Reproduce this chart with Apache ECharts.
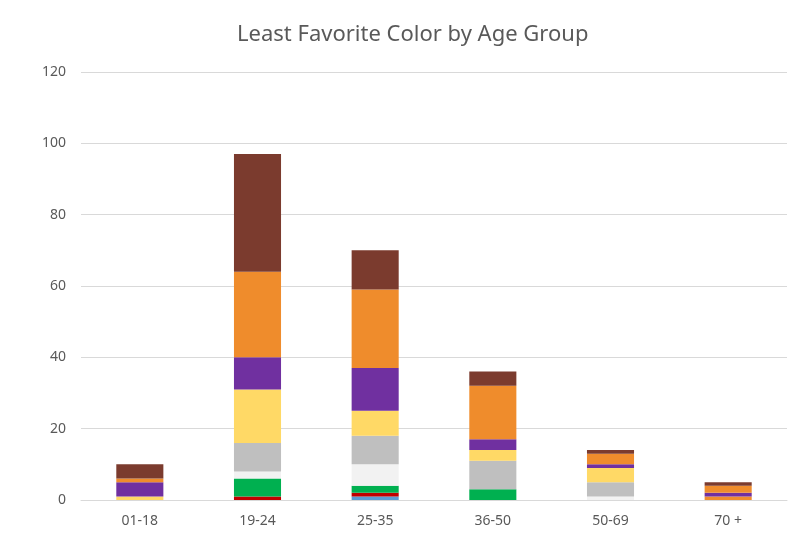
<!DOCTYPE html>
<html><head><meta charset="utf-8">
<script src="https://cdn.jsdelivr.net/npm/echarts@6/dist/echarts.min.js"></script>
<style>html,body{margin:0;padding:0;background:#fff}#c{width:800px;height:546px}</style>
</head><body><div id="c"></div>
<script>
const categories = ['01-18','19-24','25-35','36-50','50-69','70 +'];
const yTicks = [0,20,40,60,80,100,120];
const blue   = [0,0,1,0,0,0];
const red    = [0,1,1,0,0,0];
const green  = [0,5,2,3,0,0];
const white  = [0,2,6,0,1,0];
const gray   = [0,8,8,8,4,0];
const yellow = [1,15,7,3,4,0];
const peach  = [0,0,0,0,0,1];
const purple = [4,9,12,3,1,1];
const orange = [1,24,22,15,3,2];
const brown  = [4,33,11,4,1,1];

const seriesDefs = [
  ['Blue', blue, '#5b9bd5'],
  ['Red', red, '#c00000'],
  ['Green', green, '#00b050'],
  ['White', white, '#f2f2f2'],
  ['Gray', gray, '#bfbfbf'],
  ['Yellow', yellow, '#ffd966'],
  ['Peach', peach, '#f08c2e'],
  ['Purple', purple, '#7030a0'],
  ['Orange', orange, '#ef8c2c'],
  ['Brown', brown, '#7b3b2e']
];

const chart = echarts.init(document.getElementById('c'));
chart.setOption({
  animation: false,
  title: {
    text: 'Least Favorite Color by Age Group',
    left: 232, top: 19,
    textStyle: {fontFamily: 'Noto Sans', fontSize: 22, fontWeight: 'normal', color: '#595959'}
  },
  grid: {left: 81, right: 13, top: 72, bottom: 46},
  xAxis: {
    type: 'category', data: categories,
    axisLine: {lineStyle: {color: '#d9d9d9', width: 1}},
    axisTick: {show: false},
    axisLabel: {fontFamily: 'Noto Sans', fontSize: 14, color: '#595959', margin: 14}
  },
  yAxis: {
    type: 'value', min: 0, max: 120, interval: 20,
    axisLine: {show: false}, axisTick: {show: false},
    splitLine: {lineStyle: {color: '#d9d9d9', width: 1}},
    axisLabel: {fontFamily: 'Noto Sans', fontSize: 14, color: '#595959', margin: 15,
      formatter: v => yTicks.includes(v) ? String(v) : ''}
  },
  series: seriesDefs.map(([name, data, color]) => ({
    name, type: 'bar', stack: 'total', data,
    barWidth: '40%',
    itemStyle: {color},
    emphasis: {disabled: true}
  }))
});
</script></body></html>
